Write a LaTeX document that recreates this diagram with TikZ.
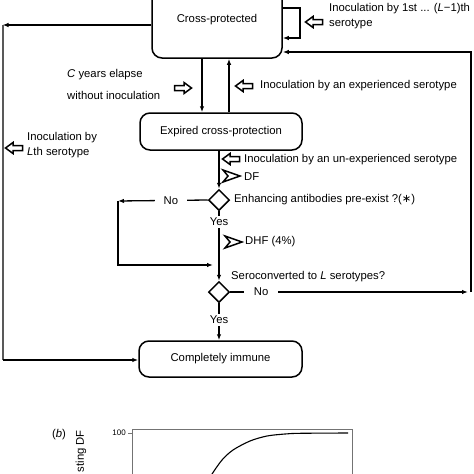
\documentclass[tikz,border=0pt]{standalone}
\usepackage{fontspec}
\setmainfont{Liberation Sans}
\newfontfamily\symfont{DejaVu Sans}
\usetikzlibrary{shapes.geometric,arrows.meta}

\begin{document}
\begin{tikzpicture}[x=1pt,y=-1pt,
  font=\fontsize{11.3}{15}\selectfont,
  >={Latex[length=6pt,width=4.5pt]},
  stage/.style={draw,line width=1.5pt,rounded corners=10pt,inner sep=0pt},
  decision/.style={draw,diamond,line width=1.5pt,minimum width=21pt,minimum height=21pt,inner sep=0pt},
  blockarrow/.style={line width=1.5pt,line join=miter,fill=white},
  chev/.style={line width=1.5pt,line join=miter},
  conn/.style={line width=1.3pt},
  lbl/.style={anchor=west,inner sep=0pt,align=left}]
\path[use as bounding box,clip] (0,0) rectangle (474,474);

% boxes and decisions
\node[stage,minimum width=130pt,minimum height=76pt] (cross) at (217,20) {Cross-protected};
\node[stage,minimum width=162pt,minimum height=37pt] (expired) at (221,131.5) {Expired cross-protection};
\node[decision] (enh) at (219,200) {};
\node[decision] (sero) at (219,292) {};
\node[stage,minimum width=163pt,minimum height=36pt] (immune) at (220.5,359) {Completely immune};
\node[inner sep=2pt] (yes1) at (219,222) {Yes};
\node[inner sep=2pt] (yes2) at (219,320) {Yes};

\coordinate (tl) at (2.5,25);
\coordinate (bl) at (2.5,360);
\coordinate (nl) at (118,201);
\coordinate (nb) at (118,265);
\coordinate (rb) at (471,292);
\coordinate (rt) at (471,52);

% connectors
\draw[conn,->] (cross.west|-tl) -- (tl);
\draw[conn,black!65,line width=2pt] (tl) -- (bl);
\draw[conn,->] (bl) -- (immune.west|-bl);
\draw[conn,->] ([xshift=-15pt]cross.south) -- ([xshift=-15pt]cross.south|-expired.north);
\draw[conn,->] ([xshift=12pt]cross.south|-expired.north) -- ([xshift=12pt]cross.south);
\draw[conn,->] (cross.east|-0,8) -- (300,8) -- (300,38) -- (cross.east|-0,38);
\draw[conn,->] (rb) -- (rt) -- (cross.east|-rt);
\draw[conn,->] (enh.north|-expired.south) -- (enh.north);
\draw[conn,->] (enh.west) -- node[pos=0.41,fill=white,inner xsep=9pt,inner ysep=1pt]{No} (nl);
\draw[conn,->] (nl) -- (nb) -- ([xshift=-6pt]nb-|enh);
\draw[conn] (enh.south) -- (yes1);
\draw[conn,->] (yes1) -- (sero.north);
\draw[conn,->] (sero.east) -- node[pos=0.13,fill=white,inner xsep=10pt,inner ysep=1pt]{No} ([xshift=-3pt]rb);
\draw[conn] (sero.south) -- (yes2);
\draw[conn,->] (yes2) -- (yes2|-immune.north);

% hollow arrows and chevrons
\draw[blockarrow,shift={(183,88)}] (-8.5,-2.5) -- (1,-2.5) -- (1,-5.5) -- (8.5,0) -- (1,5.5) -- (1,2.5) -- (-8.5,2.5) -- cycle;
\foreach \p in {(244,86),(314,22),(14,148),(231,159)}
  \draw[blockarrow,shift={\p},xscale=-1] (-8.5,-2.5) -- (1,-2.5) -- (1,-5.5) -- (8.5,0) -- (1,5.5) -- (1,2.5) -- (-8.5,2.5) -- cycle;
\draw[chev,shift={(231,176)}] (-8,-6) -- (9,0) -- (-8,6) -- (-3,0) -- cycle;
\draw[chev,shift={(233,242)}] (-8,-6) -- (9,0) -- (-8,6) -- (-3,0) -- cycle;

% labels
\node[lbl] (t1) at (329,16.5) {Inoculation by 1st ... (\textit{L}−1)th\\serotype};
\node[lbl] (t2) at (67,84) {\textit{C} years elapse\\[7pt]without inoculation};
\node[lbl] (t3) at (260,86) {Inoculation by an experienced serotype};
\node[lbl] (t4) at (27,145.5) {Inoculation by\\\textit{L}th serotype};
\node[lbl] (t5) at (244,160) {Inoculation by an un-experienced serotype};
\node[lbl] (t6) at (244,177) {DF};
\node[lbl] (t7) at (234,200) {Enhancing antibodies pre-exist ?({\symfont ∗})};
\node[lbl] (t8) at (245,242) {DHF (4\%)};
\node[lbl] (t9) at (231,277) {Seroconverted to \textit{L} serotypes?};

% panel (b)
\draw[black!55,line width=0.9pt] (132,429) rectangle (352,490);
\draw[black!55,line width=0.9pt] (128,433) -- (132,433);
\node[font=\fontsize{8}{9}\selectfont,anchor=east,inner sep=1pt] (hund) at (127,433) {100};
\node (plotb) at (59,435) {(\textit{b})};
\node[rotate=90,anchor=east,inner sep=0pt] (ylab) at (81,430) {sting DF};
\draw[line width=1.1pt] plot[smooth] coordinates {(207,482) (212,474) (222,460) (233,450) (250,441) (267,436) (285,434) (300,433.3) (348,433)};
\end{tikzpicture}
\end{document}
